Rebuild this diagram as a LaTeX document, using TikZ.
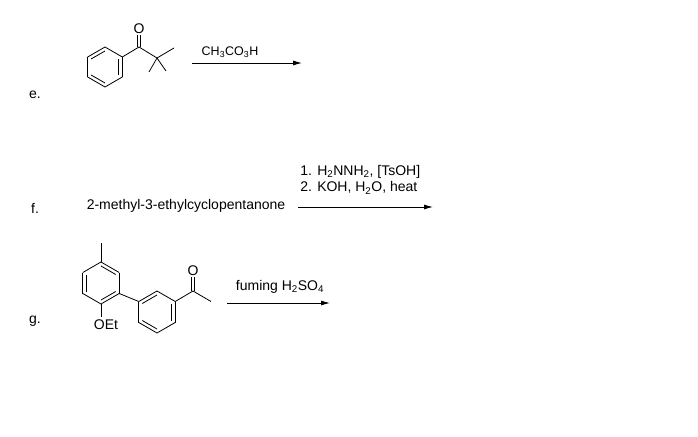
\documentclass[tikz,border=0pt]{standalone}
\usepackage{fontspec}
\setmainfont{Liberation Sans}
\usetikzlibrary{arrows.meta}
\begin{document}
\begin{tikzpicture}[x=1pt,y=-1pt,line width=0.8pt,
  lbl/.style={font=\fontsize{14}{15}\selectfont,inner sep=1pt},
  small/.style={font=\fontsize{12.5}{14}\selectfont,inner sep=1pt},
  atom/.style={font=\fontsize{14}{14}\selectfont,inner sep=1pt},
  rxn/.style={-{Latex[length=9pt,width=5pt]}}]
\useasboundingbox (0,0) rectangle (698,436);
\node[lbl] (le) at (35,95) {e.};
\node[lbl] (lf) at (35,208) {f.};
\node[lbl] (lg) at (35,321) {g.};
% e
\begin{scope}[shift={(105,67)},y=1pt]
\foreach \a in {30,90,...,330}{\draw (\a:20) -- (\a+60:20);}
\foreach \a in {90,210,330}{\draw (\a:16) -- (\a+60:16);}
\end{scope}
\coordinate (e1) at (122.3,57);
\coordinate (ec) at (139,47);
\coordinate (eq) at (157,58);
\node[atom] (eo) at (139,29) {O};
\draw (e1) -- (ec) -- (eq);
\draw ([xshift=-1.6pt]ec) -- ([xshift=-1.6pt]eo.south);
\draw ([xshift=1.6pt]ec) -- ([xshift=1.6pt]eo.south);
\coordinate (m1) at (174,48);\coordinate (m2) at (149,72);\coordinate (m3) at (166,71);
\draw (eq)--(m1) (eq)--(m2) (eq)--(m3);
\coordinate (ea) at (192,63);\coordinate (eb) at (302,63);
\draw[rxn] (ea) -- (eb);
\node[small] (er) at (230,52) {CH\textsubscript{3}CO\textsubscript{3}H};
% f
\node[lbl] (fn) at (186,206) {2-methyl-3-ethylcyclopentanone};
\coordinate (fa) at (298,207);\coordinate (fb) at (433,207);
\draw[rxn] (fa) -- (fb);
\node[lbl,anchor=west] (f1) at (299,172) {1. H\textsubscript{2}NNH\textsubscript{2}, [TsOH]};
\node[lbl,anchor=west] (f2) at (299,188) {2. KOH, H\textsubscript{2}O, heat};
% g
\begin{scope}[shift={(101,283)},y=1pt]
\foreach \a in {30,90,...,330}{\draw (\a:21) -- (\a+60:21);}
\foreach \a in {150,270,30}{\draw (\a:17) -- (\a+60:17);}
\end{scope}
\begin{scope}[shift={(157,312)},y=1pt]
\foreach \a in {30,90,...,330}{\draw (\a:21) -- (\a+60:21);}
\foreach \a in {90,210,330}{\draw (\a:17) -- (\a+60:17);}
\end{scope}
\coordinate (g1t) at (101,262);\coordinate (gme) at (101,243);
\draw (g1t) -- (gme);
\node[atom] (goet) at (106,325) {OEt};
\draw (101,304) -- (101,317);
\draw (119.2,293.5) -- (138.8,301.5);
\coordinate (g2) at (175.2,301.5);\coordinate (gc) at (193,291);\coordinate (gm) at (211,301.5);
\node[atom] (go) at (193,271) {O};
\draw (g2)--(gc)--(gm);
\draw ([xshift=-1.6pt]gc) -- ([xshift=-1.6pt]go.south);
\draw ([xshift=1.6pt]gc) -- ([xshift=1.6pt]go.south);
\coordinate (ga) at (227,303);\coordinate (gb) at (330,303);
\draw[rxn] (ga) -- (gb);
\node[lbl] (gr) at (280,287) {fuming H\textsubscript{2}SO\textsubscript{4}};
\end{tikzpicture}
\end{document}
